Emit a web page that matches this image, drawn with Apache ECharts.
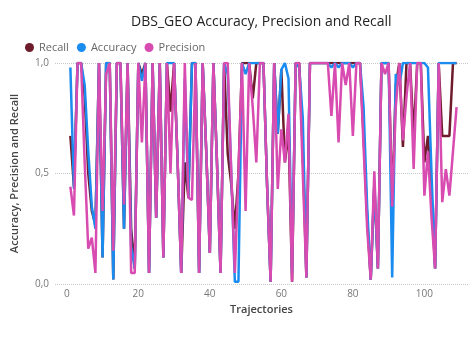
<!DOCTYPE html>
<html><head><meta charset="utf-8">
<script src="https://cdn.jsdelivr.net/npm/echarts@6/dist/echarts.min.js"></script>
<style>html,body{margin:0;padding:0;background:#fff}#c{width:474px;height:346px}</style>
</head><body><div id="c"></div>
<script>
const trajectories = [1,2,3,4,5,6,7,8,9,10,11,12,13,14,15,16,17,18,19,20,21,22,23,24,25,26,27,28,29,30,31,32,33,34,35,36,37,38,39,40,41,42,43,44,45,46,47,48,49,50,51,52,53,54,55,56,57,58,59,60,61,62,63,64,65,66,67,68,69,70,71,72,73,74,75,76,77,78,79,80,81,82,83,84,85,86,87,88,89,90,91,92,93,94,95,96,97,98,99,100,101,102,103,104,105,106,107,108,109];
const precision = [0.44,0.31,1,1,0.55,0.16,0.21,0.05,1,0.33,0.95,1,0.15,1,1,0.36,1,0.05,0.05,1,0.64,1,0.05,1,0.30,1,0.12,1,0.5,1,0.55,0.05,1,0.39,0.38,1,0.05,1,0.6,0.14,1,0.55,0.05,1,1,0.5,0.05,0.5,1,0.33,1,0.8,0.55,1,1,0.45,0.01,1,0.43,0.7,0.55,0.77,0.01,1,1,0.5,0.03,1,1,1,1,1,1,0.76,1,0.64,1,0.9,1,0.67,1,1,0.62,0.25,0.02,0.51,0.07,1,0.95,1,0.35,0.8,1,0.65,0.85,1,0.52,1,1,0.4,0.6,0.3,0.07,1,0.37,0.52,0.4,0.6,0.8];
const accuracy = [0.98,0.43,1,1,0.9,0.6,0.35,0.25,1,0.12,1,1,0.02,1,1,0.25,1,0.17,0.07,1,0.92,1,0.05,1,0.30,1,0.12,1,1,1,0.55,0.05,0.93,0.39,1,1,0.05,1,0.6,0.14,1,0.55,0.05,1,0.95,0.5,0.01,0.01,1,0.95,1,1,1,1,1,0.45,0.01,1,0.68,0.97,1,0.93,0.05,1,0.98,0.75,0.03,1,1,1,1,1,1,0.98,1,0.98,1,1,1,0.98,1,1,0.8,0.35,0.02,0.45,0.07,1,1,1,0.03,0.95,0.9,1,1,1,1,1,1,1,0.98,0.5,0.07,1,1,1,1,1,1];
const recall = [0.67,0.44,1,1,0.85,0.5,0.33,0.27,1,0.12,1,1,0.02,1,1,0.25,1,0.25,0.07,1,0.95,1,0.05,1,0.30,1,0.12,1,0.78,1,0.55,0.05,0.55,0.39,1,1,0.05,1,0.6,0.14,1,0.55,0.05,1,0.59,0.45,0.25,0.5,1,1,1,0.84,1,1,1,0.45,0.01,1,0.68,0.97,0.55,0.7,0.01,1,1,0.6,0.03,1,1,1,1,1,1,1,1,1,1,1,1,1,1,1,0.67,0.3,0.02,0.45,0.07,1,1,1,0.35,0.9,1,0.62,1,1,0.67,1,1,0.55,0.67,0.4,0.07,1,0.67,0.67,0.67,1,1];
const yTicks = [0, 0.5, 1];

const pair = arr => trajectories.map((x, i) => [x, arr[i]]);
const chart = echarts.init(document.getElementById('c'));
const font = 'Open Sans';
chart.setOption({
  animation: false,
  title: { text: 'DBS_GEO Accuracy, Precision and Recall', left: 126, top: 10,
    textStyle: { fontFamily: font, fontSize: 14, fontWeight: 'normal', color: '#252423' } },
  legend: { left: 20, top: 37, icon: 'circle', itemWidth: 9, itemHeight: 9, itemGap: 8,
    textStyle: { fontFamily: font, fontSize: 11, color: '#666' },
    data: ['Recall', 'Accuracy', 'Precision'] },
  grid: { left: 55, right: 6, top: 63, bottom: 62 },
  xAxis: { type: 'value', min: -3.3, max: 112.2, splitNumber: 6,
    name: 'Trajectories', nameLocation: 'middle', nameGap: 16,
    nameTextStyle: { fontFamily: font, fontSize: 11, color: '#444', fontWeight: 600 },
    axisLine: { show: false }, axisTick: { show: false }, splitLine: { show: false },
    axisLabel: { showMinLabel: false, showMaxLabel: false, margin: 5, fontFamily: font, fontSize: 10, color: '#777' } },
  yAxis: { type: 'value', min: yTicks[0], max: yTicks[2], interval: 0.5,
    name: 'Accuracy, Precision and Recall', nameLocation: 'middle', nameGap: 35,
    nameTextStyle: { fontFamily: font, fontSize: 11, color: '#444', fontWeight: 600 },
    axisLine: { show: false }, axisTick: { show: false },
    splitLine: { lineStyle: { type: 'dotted', color: '#c8c8c8', width: 1 } },
    axisLabel: { margin: 6, fontFamily: font, fontSize: 10, color: '#777',
      formatter: v => v.toFixed(1).replace('.', ',') } },
  series: [
    { name: 'Recall', type: 'line', data: pair(recall), showSymbol: false, symbol: 'circle',
      itemStyle: { color: '#6E1C2C' }, lineStyle: { width: 2.5, color: '#6E1C2C' } },
    { name: 'Accuracy', type: 'line', data: pair(accuracy), showSymbol: false, symbol: 'circle',
      itemStyle: { color: '#1A8CF0' }, lineStyle: { width: 2.5, color: '#1A8CF0' } },
    { name: 'Precision', type: 'line', data: pair(precision), showSymbol: false, symbol: 'circle',
      itemStyle: { color: '#D84BB0' }, lineStyle: { width: 2.5, color: '#D84BB0' } }
  ]
});
</script></body></html>
